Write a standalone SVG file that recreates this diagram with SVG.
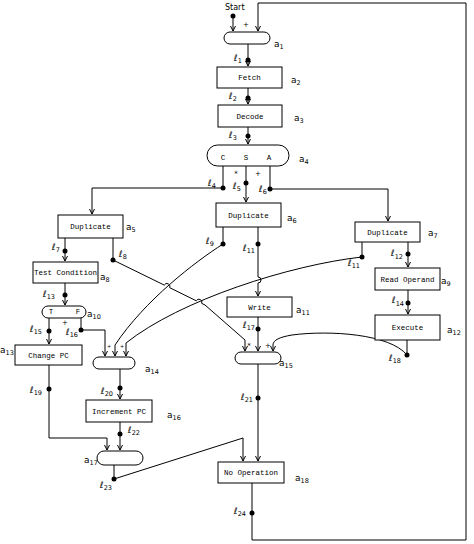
<svg xmlns="http://www.w3.org/2000/svg" width="474" height="544" viewBox="0 0 474 544">
<defs>
<marker id="ar" markerWidth="6" markerHeight="6" refX="5" refY="3" orient="auto" markerUnits="userSpaceOnUse"><path d="M0,0.5 L5,3 L0,5.5" fill="none" stroke="#000" stroke-width="1"/></marker>
</defs>
<style>
.bx{fill:#fff;stroke:#000;stroke-width:1}
.ln{fill:none;stroke:#000;stroke-width:1}
.t{font-family:"Liberation Mono","DejaVu Sans Mono",monospace;font-size:7.5px;text-anchor:middle}
.lb{font-family:"DejaVu Sans","Liberation Sans",sans-serif;font-size:9px}
.s{font-size:6.5px}
.m{font-family:"DejaVu Sans","Liberation Sans",sans-serif;font-size:7px;text-anchor:middle}
.dot{fill:#000}
</style>
<rect width="474" height="544" fill="#fff"/>
<g id="connectors">
<path class="ln" d="M233,16 V31" marker-end="url(#ar)"/>
<path class="ln" d="M252,483 V540 H466 V3 H258 V31" marker-end="url(#ar)"/>
<path class="ln" d="M248,44 V66" marker-end="url(#ar)"/>
<path class="ln" d="M248,88 V104" marker-end="url(#ar)"/>
<path class="ln" d="M248,127 V144" marker-end="url(#ar)"/>
<path class="ln" d="M223,166 V188 H92 V214" marker-end="url(#ar)"/>
<path class="ln" d="M246,166 V202" marker-end="url(#ar)"/>
<path class="ln" d="M270,166 V189 H388 V221" marker-end="url(#ar)"/>
<path class="ln" d="M65,238 V261" marker-end="url(#ar)"/>
<path class="ln" d="M113,238 V260 L164.3,285.1 A3,3 0 0 1 169.7,287.7 L196.3,300.8 A3,3 0 0 1 201.7,303.4 L205,305 L245,340 V351" marker-end="url(#ar)"/>
<path class="ln" d="M223,227 V244 C195,262 145,300 115,345 V356" marker-end="url(#ar)"/>
<path class="ln" d="M258,227 V277 A3,3 0 0 1 258,283 V296" marker-end="url(#ar)"/>
<path class="ln" d="M362,242 V257 C290,265 180,300 126,343 V356" marker-end="url(#ar)"/>
<path class="ln" d="M408,242 V267" marker-end="url(#ar)"/>
<path class="ln" d="M408,290 V314" marker-end="url(#ar)"/>
<path class="ln" d="M407,340 V355"/>
<path class="ln" d="M407,355 C390,334 330,330 292,335 C280,337 273,340 273,345 V351" marker-end="url(#ar)"/>
<path class="ln" d="M258,317 V351" marker-end="url(#ar)"/>
<path class="ln" d="M258,364 V461" marker-end="url(#ar)"/>
<path class="ln" d="M114,465 V479 L243,438 V461" marker-end="url(#ar)"/>
<path class="ln" d="M65,283 V305" marker-end="url(#ar)"/>
<path class="ln" d="M49,318 V344" marker-end="url(#ar)"/>
<path class="ln" d="M81,318 V330 H105 V356" marker-end="url(#ar)"/>
<path class="ln" d="M49,365 V438 H107 V450" marker-end="url(#ar)"/>
<path class="ln" d="M120,369 V399" marker-end="url(#ar)"/>
<path class="ln" d="M120,422 V450" marker-end="url(#ar)"/>
<g class="dot">
<circle cx="233" cy="16" r="2.5"/>
<circle cx="248" cy="60" r="2.5"/>
<circle cx="248" cy="98" r="2.5"/>
<circle cx="248" cy="136" r="2.5"/>
<circle cx="223" cy="188" r="2.5"/>
<circle cx="246" cy="183" r="2.5"/>
<circle cx="270" cy="189" r="2.5"/>
<circle cx="65" cy="251" r="2.5"/>
<circle cx="113" cy="260" r="2.5"/>
<circle cx="223" cy="244" r="2.5"/>
<circle cx="258" cy="244" r="2.5"/>
<circle cx="362" cy="257" r="2.5"/>
<circle cx="408" cy="254" r="2.5"/>
<circle cx="65" cy="295" r="2.5"/>
<circle cx="408" cy="303" r="2.5"/>
<circle cx="49" cy="331" r="2.5"/>
<circle cx="81" cy="330" r="2.5"/>
<circle cx="258" cy="329" r="2.5"/>
<circle cx="407" cy="355" r="2.5"/>
<circle cx="49" cy="389" r="2.5"/>
<circle cx="120" cy="388" r="2.5"/>
<circle cx="258" cy="398" r="2.5"/>
<circle cx="120" cy="434" r="2.5"/>
<circle cx="114" cy="479" r="2.5"/>
<circle cx="252" cy="513" r="2.5"/>
</g>
<g class="lb">
<text x="225" y="10" style="font-size:8px">Start</text>
<text x="234" y="61">ℓ<tspan class="s" dy="2">1</tspan></text>
<text x="229" y="99">ℓ<tspan class="s" dy="2">2</tspan></text>
<text x="229" y="138">ℓ<tspan class="s" dy="2">3</tspan></text>
<text x="208" y="186">ℓ<tspan class="s" dy="2">4</tspan></text>
<text x="233" y="189">ℓ<tspan class="s" dy="2">5</tspan></text>
<text x="259" y="192">ℓ<tspan class="s" dy="2">6</tspan></text>
<text x="52" y="250">ℓ<tspan class="s" dy="2">7</tspan></text>
<text x="119" y="257">ℓ<tspan class="s" dy="2">8</tspan></text>
<text x="206" y="244">ℓ<tspan class="s" dy="2">9</tspan></text>
<text x="243" y="251">ℓ<tspan class="s" dy="2">11</tspan></text>
<text x="348" y="266">ℓ<tspan class="s" dy="2">11</tspan></text>
<text x="391" y="256">ℓ<tspan class="s" dy="3">12</tspan></text>
<text x="43" y="297">ℓ<tspan class="s" dy="2">13</tspan></text>
<text x="392" y="303">ℓ<tspan class="s" dy="3">14</tspan></text>
<text x="30" y="332">ℓ<tspan class="s" dy="2">15</tspan></text>
<text x="66" y="335">ℓ<tspan class="s" dy="2">16</tspan></text>
<text x="243" y="328">ℓ<tspan class="s" dy="2">17</tspan></text>
<text x="389" y="361">ℓ<tspan class="s" dy="2">18</tspan></text>
<text x="30" y="393">ℓ<tspan class="s" dy="2">19</tspan></text>
<text x="101" y="394">ℓ<tspan class="s" dy="2">20</tspan></text>
<text x="241" y="400">ℓ<tspan class="s" dy="2">21</tspan></text>
<text x="128" y="433">ℓ<tspan class="s" dy="2">22</tspan></text>
<text x="100" y="488">ℓ<tspan class="s" dy="2">23</tspan></text>
<text x="234" y="514">ℓ<tspan class="s" dy="2">24</tspan></text>
</g>
<g class="m">
<text x="246" y="27">+</text>
<text x="236" y="176">*</text>
<text x="258" y="176">+</text>
<text x="65" y="325">+</text>
<text x="109" y="348" style="font-size:5px">+</text>
<text x="122" y="348" style="font-size:5px">+</text>
<text x="249" y="348">*</text>
<text x="268" y="348">+</text>
</g>
</g>
<g id="a1"><rect class="bx" x="224" y="32" width="46" height="12" rx="6"/><text class="lb" x="274" y="47">a<tspan class="s" dy="2">1</tspan></text></g>
<g id="a2"><rect class="bx" x="217" y="67" width="65" height="21"/><text class="t" x="249.5" y="80">Fetch</text><text class="lb" x="291" y="83">a<tspan class="s" dy="2">2</tspan></text></g>
<g id="a3"><rect class="bx" x="218" y="105" width="64" height="22"/><text class="t" x="250" y="119">Decode</text><text class="lb" x="294" y="121">a<tspan class="s" dy="2">3</tspan></text></g>
<g id="a4"><rect class="bx" x="207" y="145" width="82" height="21" rx="10.5"/><text class="t" x="223" y="160">C</text><text class="t" x="246" y="160">S</text><text class="t" x="269" y="160">A</text><text class="lb" x="299" y="162">a<tspan class="s" dy="2">4</tspan></text></g>
<g id="a5"><rect class="bx" x="58" y="215" width="65" height="23"/><text class="t" x="90.5" y="229">Duplicate</text><text class="lb" x="126" y="230">a<tspan class="s" dy="2">5</tspan></text></g>
<g id="a6"><rect class="bx" x="216" y="203" width="65" height="24"/><text class="t" x="248.5" y="218">Duplicate</text><text class="lb" x="287" y="221">a<tspan class="s" dy="2">6</tspan></text></g>
<g id="a7"><rect class="bx" x="355" y="222" width="65" height="20"/><text class="t" x="387.5" y="235">Duplicate</text><text class="lb" x="428" y="236">a<tspan class="s" dy="2">7</tspan></text></g>
<g id="a8"><rect class="bx" x="33" y="262" width="65" height="21"/><text class="t" x="65.5" y="275">Test Condition</text><text class="lb" x="100" y="280">a<tspan class="s" dy="2">8</tspan></text></g>
<g id="a9"><rect class="bx" x="375" y="268" width="65" height="22"/><text class="t" x="407.5" y="282">Read Operand</text><text class="lb" x="441" y="284">a<tspan class="s" dy="2">9</tspan></text></g>
<g id="a10"><rect class="bx" x="42" y="306" width="44" height="12" rx="6"/><text class="t" x="51" y="314">T</text><text class="t" x="78" y="314">F</text><text class="lb" x="87" y="317">a<tspan class="s" dy="2">10</tspan></text></g>
<g id="a11"><rect class="bx" x="227" y="297" width="65" height="20"/><text class="t" x="259.5" y="310">Write</text><text class="lb" x="296" y="313">a<tspan class="s" dy="2">11</tspan></text></g>
<g id="a12"><rect class="bx" x="375" y="315" width="65" height="25"/><text class="t" x="407.5" y="330">Execute</text><text class="lb" x="447" y="333">a<tspan class="s" dy="2">12</tspan></text></g>
<g id="a13"><rect class="bx" x="15" y="345" width="67" height="20"/><text class="t" x="48.5" y="358">Change PC</text><text class="lb" x="0" y="353">a<tspan class="s" dy="2">13</tspan></text></g>
<g id="a14"><rect class="bx" x="93" y="357" width="42" height="12" rx="6"/><text class="lb" x="145" y="372">a<tspan class="s" dy="2">14</tspan></text></g>
<g id="a15"><rect class="bx" x="235" y="352" width="46" height="12" rx="6"/><text class="lb" x="279" y="366">a<tspan class="s" dy="2">15</tspan></text></g>
<g id="a16"><rect class="bx" x="86" y="400" width="66" height="22"/><text class="t" x="119" y="414">Increment PC</text><text class="lb" x="167" y="418">a<tspan class="s" dy="2">16</tspan></text></g>
<g id="a17"><rect class="bx" x="97" y="451" width="46" height="14" rx="7"/><text class="lb" x="84" y="463">a<tspan class="s" dy="2">17</tspan></text></g>
<g id="a18"><rect class="bx" x="218" y="462" width="66" height="21"/><text class="t" x="251" y="475">No Operation</text><text class="lb" x="295" y="481">a<tspan class="s" dy="2">18</tspan></text></g>
</svg>
